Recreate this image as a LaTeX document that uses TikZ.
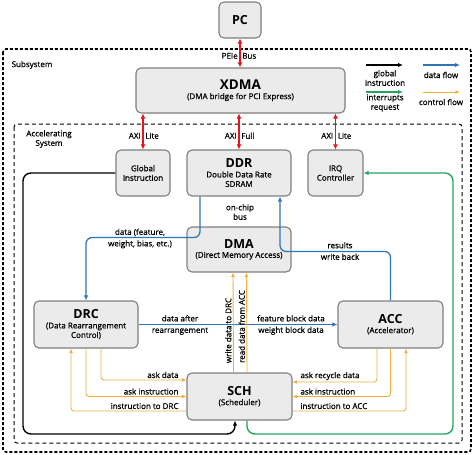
\documentclass[tikz,border=0pt]{standalone}
\usepackage{fontspec}
\setmainfont{Open Sans}[UprightFeatures={FakeBold=0.8}]
\usetikzlibrary{arrows.meta,positioning}
\definecolor{boxfill}{HTML}{EBEBEB}
\definecolor{boxline}{HTML}{7F7F7F}
\definecolor{blueflow}{HTML}{2E75B6}
\definecolor{orangeflow}{HTML}{EDB140}
\definecolor{greenflow}{HTML}{22A660}
\definecolor{busred}{HTML}{E8141C}
\newcommand\blocktitle[1]{{\fontsize{12.5}{14}\selectfont\bfseries #1}}
\tikzset{
  block/.style={draw=boxline, fill=boxfill, line width=1.1pt, rounded corners=5pt, align=center, inner sep=1pt, font=\fontsize{8}{9.5}\selectfont},
  lbl/.style={font=\fontsize{8}{9.5}\selectfont, inner sep=1.5pt, align=center},
  bus/.style={draw=busred, line width=1.6pt, {Latex[length=5pt,width=5pt]}-{Latex[length=5pt,width=5pt]}},
  datapath/.style={draw=blueflow, line width=1.3pt, rounded corners=6pt, -{Latex[length=5pt,width=4.5pt]}},
  ctrlpath/.style={draw=orangeflow, line width=0.9pt, rounded corners=3pt, -{Latex[length=4.5pt,width=4pt]}},
  globpath/.style={draw=black, line width=1.4pt, rounded corners=8pt, -{Latex[length=5pt,width=4.5pt]}},
  irqpath/.style={draw=greenflow, line width=1.4pt, rounded corners=8pt, -{Latex[length=5pt,width=4.5pt]}},
  subsys/.style={line width=1.6pt, dash pattern=on 3pt off 2pt, rounded corners=3pt},
  accsys/.style={line width=1pt, dash pattern=on 4pt off 3pt, rounded corners=3pt}
}
\begin{document}
\begin{tikzpicture}[x=1pt, y=-1pt]
    \useasboundingbox (0,0) rectangle (474,455);
    \draw[subsys] (3,49) rectangle (471,452);
    \draw[accsys] (14,124) rectangle (462,443);
    \node[lbl, anchor=west] (subsysname) at (10,65) {Subsystem};
    \node[lbl] (accsysname) at (49,139) {Accelerating\\System};

    \node[block, minimum width=42, minimum height=36] (pc) at (240,20) {\blocktitle{PC}};
    \node[block, minimum width=209, minimum height=45] (xdma) at (240.5,90.5) {{\fontsize{13.5}{15.5}\selectfont\bfseries XDMA}\\(DMA bridge for PCI Express)};
    \node[block, minimum width=54, minimum height=46] (gi) at (143,173) {Global\\Instruction};
    \node[block, minimum width=104, minimum height=46] (ddr) at (239,173) {\blocktitle{DDR}\\Double Data Rate\\SDRAM};
    \node[block, minimum width=55, minimum height=46] (irq) at (335.5,173) {IRQ\\Controller};
    \node[block, minimum width=104, minimum height=45] (dma) at (239,249.5) {\blocktitle{DMA}\\(Direct Memory Access)};
    \node[block, minimum width=104, minimum height=47] (drc) at (86,324.5) {\blocktitle{DRC}\\(Data Rearrangement\\Control)};
    \node[block, minimum width=105, minimum height=47] (acc) at (390.5,324.5) {\blocktitle{ACC}\\(Accelerator)};
    \node[block, minimum width=105, minimum height=47] (sch) at (239.5,396.5) {\blocktitle{SCH}\\(Scheduler)};

    \node[lbl] (lgi) at (385,78) {global\\instruction};
    \node[lbl] (ldata) at (441,75) {data flow};
    \node[lbl] (lirq) at (385,103) {interrupts\\request};
    \node[lbl] (lctrl) at (441,102) {control flow};
    \coordinate (kgi) at (366,65);
    \coordinate (kdata) at (423,65);
    \coordinate (kirq) at (366,92);
    \coordinate (kctrl) at (423,92);
    \draw[globpath] (kgi) -- ++(37,0);
    \draw[datapath] (kdata) -- ++(37,0);
    \draw[irqpath] (kirq) -- ++(37,0);
    \draw[ctrlpath] (kctrl) -- ++(37,0);

    \draw[bus] (pc.south) -- (pc.south |- xdma.north) node[lbl, pos=.6, left] {PEIe} node[lbl, pos=.6, right] {Bus};
    \draw[bus] (gi.north |- xdma.south) -- (gi.north) node[lbl, pos=.62, left] {AXI} node[lbl, pos=.62, right] {Lite};
    \draw[bus] (ddr.north |- xdma.south) -- (ddr.north) node[lbl, pos=.62, left] {AXI} node[lbl, pos=.62, right] {Full};
    \draw[bus] (irq.north |- xdma.south) -- (irq.north) node[lbl, pos=.62, left] {AXI} node[lbl, pos=.62, right] {Lite};

    \node[lbl] (onchip) at (240,212) {on-chip\\bus};
    \draw[datapath] ([xshift=-39pt]ddr.south) -- ++(0,41) -| (drc.north);
    \node[lbl] (ddrdata) at (140,238.5) {data (feature,\\[2pt]weight, bias, etc.)};
    \draw[datapath] (acc.north) -- ++(0,-49) -| ([xshift=41pt]ddr.south);
    \node[lbl] (results) at (340,251) {results\\[2pt]write back};
    \draw[datapath] (drc) -- (acc);
    \node[lbl] (afterre) at (180,325) {data after\\[2pt]rearrangement};
    \node[lbl] (blockdata) at (291,325) {feature block data\\[2pt]weight block data};

    \draw[ctrlpath] ([xshift=-6pt]sch.north) -- ([xshift=-6pt]dma.south) node[lbl, pos=.42, rotate=90, anchor=south] {write data to DRC};
    \draw[ctrlpath] ([xshift=7.5pt]sch.north) -- ([xshift=7.5pt]dma.south) node[lbl, pos=.46, rotate=90, anchor=south] {read data from ACC};

    \draw[ctrlpath] ([xshift=15pt]drc.south) |- ([yshift=16.5pt]sch.west) node[lbl, pos=1, above left, xshift=-6pt] {ask data};
    \draw[ctrlpath] (drc.south) |- (sch.west) node[lbl, pos=1, above left, xshift=-6pt] {ask instruction};
    \draw[ctrlpath] ([yshift=-14.5pt]sch.west) -| ([xshift=-15pt]drc.south) node[lbl, pos=0, above left, xshift=-6pt] {instruction to DRC};
    \draw[ctrlpath] ([xshift=-13.5pt]acc.south) |- ([yshift=14.5pt]sch.east) node[lbl, pos=1, above right, xshift=6pt] {ask recycle data};
    \draw[ctrlpath] (acc.south) |- (sch.east) node[lbl, pos=1, above right, xshift=6pt] {ask instruction};
    \draw[ctrlpath] ([yshift=-14.5pt]sch.east) -| ([xshift=15.5pt]acc.south) node[lbl, pos=0, above right, xshift=6pt] {instruction to ACC};

    \draw[globpath] (gi.west) -| (23,434) -| ([xshift=-4.5pt]sch.south);
    \draw[irqpath] ([xshift=7.5pt]sch.south) |- (453,434) |- (irq.east);
\end{tikzpicture}
\end{document}
